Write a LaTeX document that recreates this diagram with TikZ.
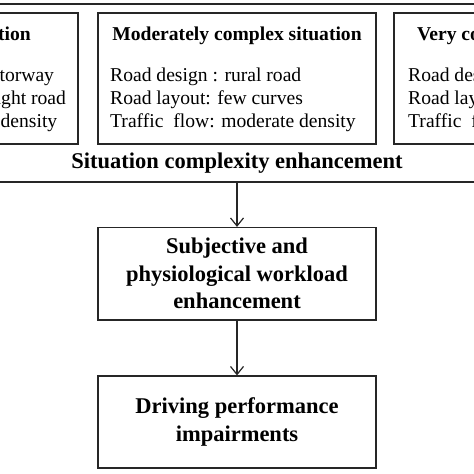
\documentclass[tikz,border=0pt]{standalone}
\usepackage{fontspec}
\setmainfont{Liberation Serif}
\usetikzlibrary{arrows.meta}
\newcommand{\bodysize}{\fontsize{19.6}{23}\selectfont}
\newcommand{\headsize}{\fontsize{22.5}{27.5}\selectfont}

\begin{document}
\begin{tikzpicture}[x=1pt, y=-1pt,
    frame/.style={draw=black!85, line width=1.2pt, inner sep=0pt},
    sitbox/.style={frame, minimum height=131pt},
    flowbox/.style={frame, minimum width=278pt, align=center, font=\headsize\bfseries},
    sittitle/.style={inner sep=0pt, font=\bodysize\bfseries},
    sititems/.style={inner sep=0pt, anchor=west, align=left, font=\bodysize},
    conn/.style={draw=black!85, line width=1.2pt, -{Straight Barb[length=8pt,width=13pt,line width=1.2pt]}}]
    \useasboundingbox (0,0) rectangle (474,474);
    \clip (0,0) rectangle (474,474);
        % situations frame
        \node[frame, minimum width=900pt, minimum height=178pt] (situations) at (237,93) {};
        % simple situation
        \node[sitbox, minimum width=230pt] (simple) at (-37,78.5) {};
        \node[sittitle] (simpletitle) at (-37,36) {Simple situation};
        \node[sititems] (simpleitems) at (-140,100) {Road design : motorway\\Road layout: straight road\\Traffic flow: low density};
        % moderately complex situation
        \node[sitbox, minimum width=278pt] (moderate) at (237,78.5) {};
        \node[sittitle] (moderatetitle) at (237,36) {Moderately complex situation};
        \node[sititems] (moderateitems) at (110,100) {Road design : rural road\\Road layout: few curves\\Traffic\ \ flow: moderate density};
        % very complex situation
        \node[sitbox, minimum width=238pt] (complex) at (513,78.5) {};
        \node[sittitle] (complextitle) at (513,36) {Very complex situation};
        \node[sititems] (complexitems) at (408,100) {Road design : urban road\\Road layout: many curves\\Traffic\ \ flow: high density};
        % enhancement
        \node[inner sep=0pt, font=\headsize\bfseries] (enhance) at (237,163) {Situation complexity enhancement};
        % consequences
        \node[flowbox, minimum height=92.5pt] (workload) at (237,273.75) {Subjective and\\physiological workload\\enhancement};
        \node[flowbox, minimum height=92pt] (impair) at (237,422) {Driving performance\\impairments};
        % arrows
        \draw[conn] (situations) -- (workload);
        \draw[conn] (workload) -- (impair);
\end{tikzpicture}
\end{document}
